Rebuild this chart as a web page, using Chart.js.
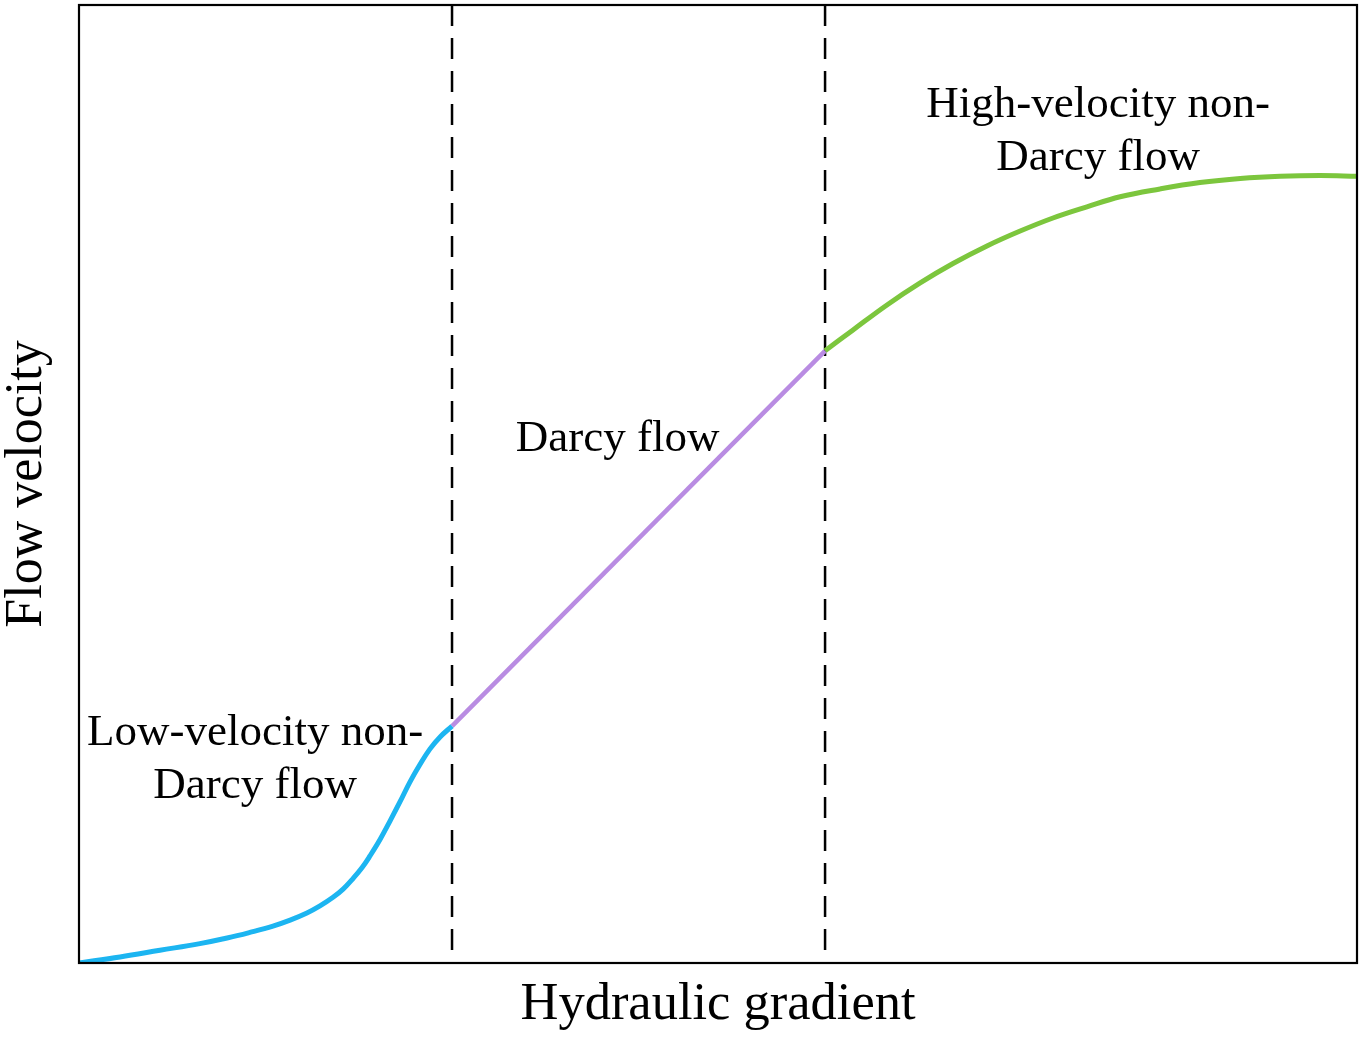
<!DOCTYPE html>
<html lang="en">

<head>
    <meta charset="UTF-8">
    <meta name="viewport" content="width=device-width, initial-scale=1.0">
    <title>Flow regimes</title>
    <script src="https://cdn.jsdelivr.net/npm/chart.js"></script>
    <style>
        html, body {
            margin: 0;
            padding: 0;
            background: #ffffff;
        }

        .chartBox {
            width: 1364px;
            height: 1037px;
        }
    </style>
</head>

<body>
    <div class="chartBox">
        <canvas id="myChart"></canvas>
    </div>
    <script>
        // hydraulic gradient (x) / flow velocity (y)
        // units: the Darcy segment runs from x = 1 to x = 2
        const lowX = [0, 0.110, 0.217, 0.324, 0.397, 0.458, 0.520, 0.566, 0.611, 0.646, 0.681, 0.708,
            0.735, 0.759, 0.780, 0.807, 0.834, 0.861, 0.887, 0.914, 0.941, 0.968, 1.0];
        const lowY = [0, 0.016, 0.034, 0.052, 0.067, 0.082, 0.099, 0.115, 0.134, 0.153, 0.176, 0.198,
            0.227, 0.256, 0.287, 0.331, 0.381, 0.433, 0.485, 0.532, 0.574, 0.606, 0.635];

        const darcyX = [1.0, 2.0];
        const darcyY = [0.635, 1.641];

        const highX = [2.0, 2.075, 2.166, 2.255, 2.343, 2.434, 2.523, 2.611, 2.702, 2.791, 2.898,
            3.005, 3.113, 3.220, 3.327, 3.426];
        const highY = [1.641, 1.697, 1.764, 1.823, 1.875, 1.922, 1.962, 1.997, 2.027, 2.054, 2.075,
            2.092, 2.103, 2.109, 2.111, 2.109];

        const boundaries = [1.0, 2.0];
        const xMax = 3.426;
        const yMax = 2.568;

        const regimeLabels = [
            ["Low-velocity non-", "Darcy flow"],
            ["Darcy flow"],
            ["High-velocity non-", "Darcy flow"]
        ];

        const serif = '"Liberation Serif", "Times New Roman", serif';

        function toPoints(xs, ys) {
            return xs.map((x, i) => ({ x: x, y: ys[i] }));
        }

        // text anchors in data units (x centre, first baseline)
        const labelAnchors = [
            { x: 0.472, y: 0.584 },
            { x: 1.444, y: 1.373 },
            { x: 2.732, y: 2.268 }
        ];

        const framePlugin = {
            id: 'frameAndLabels',
            afterDatasetsDraw(chart) {
                const ctx = chart.ctx;
                const area = chart.chartArea;
                const xs = chart.scales.x;
                const ys = chart.scales.y;
                ctx.save();
                ctx.strokeStyle = '#000';
                ctx.lineWidth = 2.2;
                ctx.strokeRect(area.left, area.top, area.right - area.left, area.bottom - area.top);

                ctx.fillStyle = '#000';
                ctx.font = '45px ' + serif;
                ctx.textAlign = 'center';
                ctx.textBaseline = 'alphabetic';
                regimeLabels.forEach((lines, i) => {
                    const px = xs.getPixelForValue(labelAnchors[i].x);
                    const py = ys.getPixelForValue(labelAnchors[i].y);
                    lines.forEach((line, j) => {
                        ctx.fillText(line, px, py + j * 53);
                    });
                });
                ctx.restore();
            }
        };

        const ctx = document.getElementById('myChart');
        // dashes start at the top frame, so draw each line downwards
        const dashed = boundaries.map(b => ({
            data: [{ x: b, y: yMax }, { x: b, y: 0 }],
            borderColor: '#000',
            borderWidth: 2.5,
            borderDash: [21, 12],
            pointRadius: 0,
            order: 2
        }));

        new Chart(ctx, {
            type: 'line',
            data: {
                datasets: [
                    {
                        label: 'Low-velocity non-Darcy flow',
                        data: toPoints(lowX, lowY),
                        borderColor: '#1cb5f1',
                        borderWidth: 5,
                        tension: 0.4,
                        pointRadius: 0,
                        order: 1
                    },
                    {
                        label: 'Darcy flow',
                        data: toPoints(darcyX, darcyY),
                        borderColor: '#b98ce2',
                        borderWidth: 4.5,
                        pointRadius: 0,
                        order: 1
                    },
                    {
                        label: 'High-velocity non-Darcy flow',
                        data: toPoints(highX, highY),
                        borderColor: '#7cc63d',
                        borderWidth: 5,
                        tension: 0.4,
                        pointRadius: 0,
                        order: 1
                    },
                    ...dashed
                ]
            },
            options: {
                responsive: true,
                maintainAspectRatio: false,
                animation: false,
                layout: {
                    padding: { top: 5, right: 7, left: 0, bottom: 0 }
                },
                plugins: {
                    legend: { display: false },
                    tooltip: { enabled: false }
                },
                scales: {
                    x: {
                        type: 'linear',
                        min: 0,
                        max: xMax,
                        grid: { display: false, drawTicks: false },
                        border: { display: false },
                        ticks: { display: false },
                        title: {
                            display: true,
                            text: 'Hydraulic gradient',
                            color: '#000',
                            font: { family: serif, size: 52.5, lineHeight: 1.2 },
                            padding: { top: 11, bottom: 0 }
                        }
                    },
                    y: {
                        type: 'linear',
                        min: 0,
                        max: yMax,
                        grid: { display: false, drawTicks: false },
                        border: { display: false },
                        ticks: { display: false },
                        title: {
                            display: true,
                            text: 'Flow velocity',
                            color: '#000',
                            font: { family: serif, size: 52, lineHeight: 0.9 },
                            padding: { top: 4, bottom: 28.2 }
                        }
                    }
                }
            },
            plugins: [framePlugin]
        });
    </script>
</body>

</html>
